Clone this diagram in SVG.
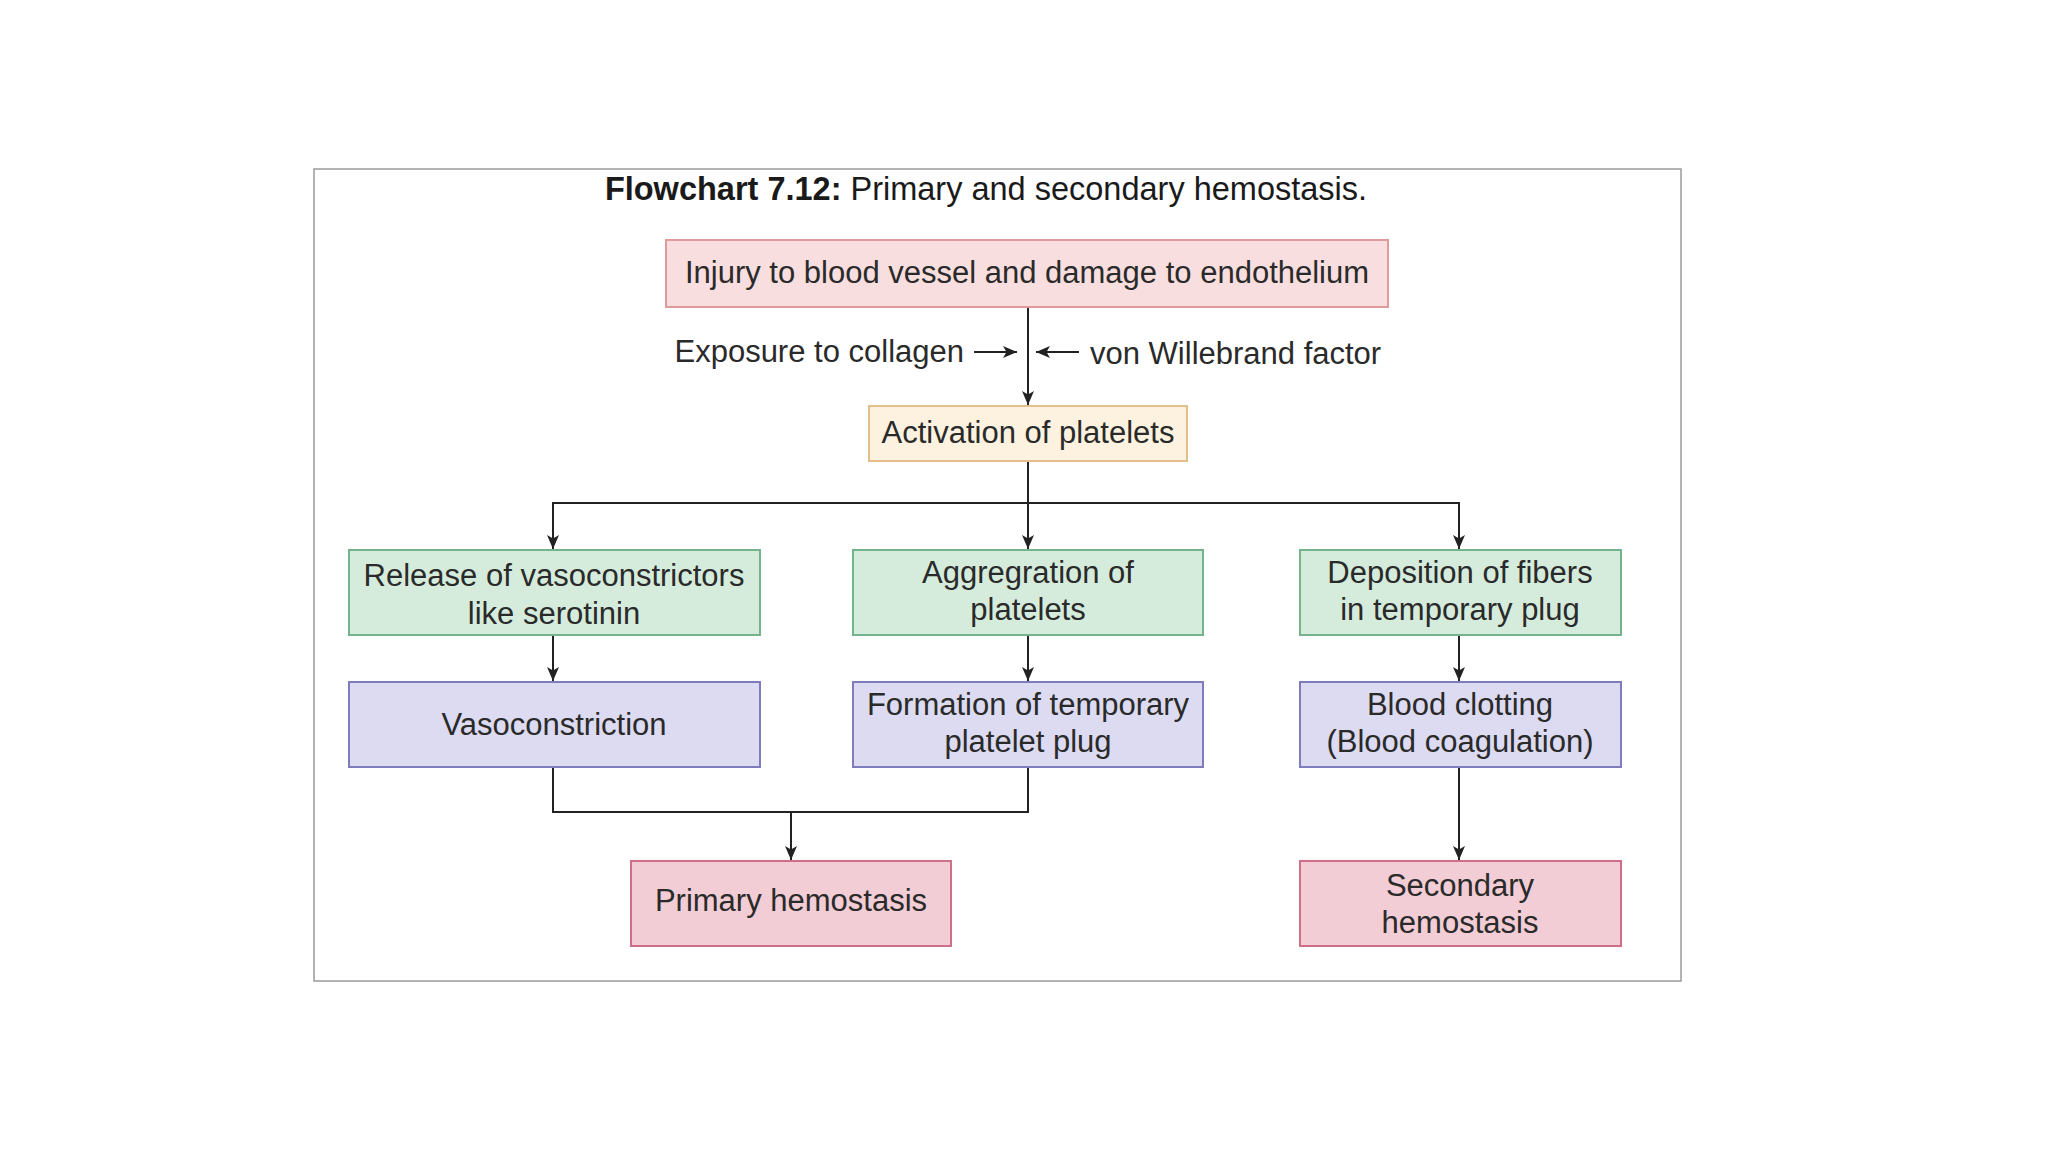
<svg xmlns="http://www.w3.org/2000/svg" width="2048" height="1152" viewBox="0 0 2048 1152">
<style>
text{font-family:"Liberation Sans",Arial,sans-serif;fill:#2a2a2a;font-size:31px}
.c{text-anchor:middle}
.title{font-family:"Liberation Sans",Arial,sans-serif;font-size:32.5px;fill:#1a1a1a}
.ln{fill:none;stroke:#222;stroke-width:2}
.red{fill:#f8dede;stroke:#e09a9c;stroke-width:2}
.tan{fill:#fdf2df;stroke:#e2bf8c;stroke-width:2}
.grn{fill:#d5ecdc;stroke:#74b38c;stroke-width:2}
.pur{fill:#dcdbf1;stroke:#7f7cbd;stroke-width:2}
.pnk{fill:#f2cdd5;stroke:#cc6f87;stroke-width:2}
</style>
<defs>
<marker id="ah" viewBox="0 0 14 14" refX="14" refY="7" markerWidth="14" markerHeight="14" markerUnits="userSpaceOnUse" orient="auto">
<path d="M0,1 L14,7 L0,13 L3.5,7 Z" fill="#222"/>
</marker>
</defs>
<rect x="0" y="0" width="2048" height="1152" fill="#fff"/>
<rect x="314" y="169" width="1367" height="812" fill="#fff" stroke="#9a9a9a" stroke-width="1.5"/>
<text class="title c" x="986" y="200"><tspan font-weight="bold">Flowchart 7.12:</tspan> Primary and secondary hemostasis.</text>

<g id="connectors">
<line class="ln" x1="1028" y1="307" x2="1028" y2="405" marker-end="url(#ah)"/>
<line class="ln" x1="974" y1="352" x2="1017" y2="352" marker-end="url(#ah)"/>
<line class="ln" x1="1079" y1="352" x2="1036" y2="352" marker-end="url(#ah)"/>
<line class="ln" x1="1028" y1="461" x2="1028" y2="503"/>
<line class="ln" x1="553" y1="503" x2="1459" y2="503"/>
<line class="ln" x1="553" y1="502" x2="553" y2="549" marker-end="url(#ah)"/>
<line class="ln" x1="1028" y1="502" x2="1028" y2="549" marker-end="url(#ah)"/>
<line class="ln" x1="1459" y1="502" x2="1459" y2="549" marker-end="url(#ah)"/>
<line class="ln" x1="553" y1="635" x2="553" y2="681" marker-end="url(#ah)"/>
<line class="ln" x1="1028" y1="635" x2="1028" y2="681" marker-end="url(#ah)"/>
<line class="ln" x1="1459" y1="635" x2="1459" y2="681" marker-end="url(#ah)"/>
<polyline class="ln" points="553,767 553,812 1028,812 1028,767"/>
<line class="ln" x1="791" y1="812" x2="791" y2="860" marker-end="url(#ah)"/>
<line class="ln" x1="1459" y1="767" x2="1459" y2="860" marker-end="url(#ah)"/>
</g>

<g id="labels">
<text x="964" y="362" text-anchor="end">Exposure to collagen</text>
<text x="1090" y="364">von Willebrand factor</text>
</g>

<g id="injury">
<rect class="red" x="666" y="240" width="722" height="67"/>
<text class="c" x="1027" y="283">Injury to blood vessel and damage to endothelium</text>
</g>
<g id="activation">
<rect class="tan" x="869" y="406" width="318" height="55"/>
<text class="c" x="1028" y="443">Activation of platelets</text>
</g>
<g id="release">
<rect class="grn" x="349" y="550" width="411" height="85"/>
<text class="c" x="554" y="586">Release of vasoconstrictors</text>
<text class="c" x="554" y="624">like serotinin</text>
</g>
<g id="aggregation">
<rect class="grn" x="853" y="550" width="350" height="85"/>
<text class="c" x="1028" y="583">Aggregration of</text>
<text class="c" x="1028" y="620">platelets</text>
</g>
<g id="deposition">
<rect class="grn" x="1300" y="550" width="321" height="85"/>
<text class="c" x="1460" y="583">Deposition of fibers</text>
<text class="c" x="1460" y="620">in temporary plug</text>
</g>
<g id="vasoconstriction">
<rect class="pur" x="349" y="682" width="411" height="85"/>
<text class="c" x="554" y="735">Vasoconstriction</text>
</g>
<g id="formation">
<rect class="pur" x="853" y="682" width="350" height="85"/>
<text class="c" x="1028" y="715">Formation of temporary</text>
<text class="c" x="1028" y="752">platelet plug</text>
</g>
<g id="clotting">
<rect class="pur" x="1300" y="682" width="321" height="85"/>
<text class="c" x="1460" y="715">Blood clotting</text>
<text class="c" x="1460" y="752">(Blood coagulation)</text>
</g>
<g id="primary">
<rect class="pnk" x="631" y="861" width="320" height="85"/>
<text class="c" x="791" y="911">Primary hemostasis</text>
</g>
<g id="secondary">
<rect class="pnk" x="1300" y="861" width="321" height="85"/>
<text class="c" x="1460" y="896">Secondary</text>
<text class="c" x="1460" y="933">hemostasis</text>
</g>
</svg>
